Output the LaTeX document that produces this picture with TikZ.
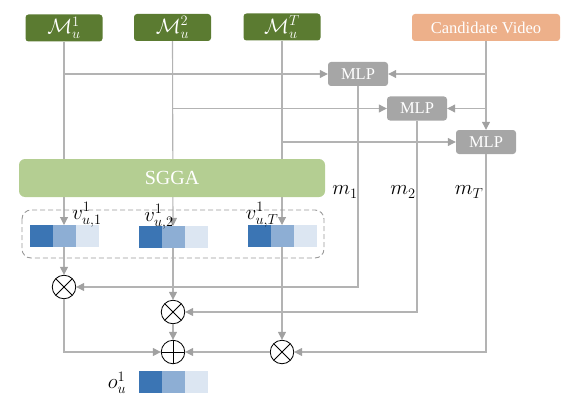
\documentclass[tikz,border=0pt]{standalone}
\usepackage{fontspec}
\setmainfont{Liberation Serif}
\usepackage{amsmath}
\usetikzlibrary{arrows.meta, positioning, fit, calc}
\pgfdeclarelayer{background}
\pgfsetlayers{background,main}
\definecolor{usergreen}{HTML}{5B7B31}
\definecolor{sggagreen}{HTML}{B4CE92}
\definecolor{candorange}{HTML}{EDB08A}
\definecolor{mlpgray}{HTML}{A6A6A6}
\definecolor{linegray}{HTML}{B3B3B3}
\definecolor{vdark}{HTML}{3B75B4}
\definecolor{vmid}{HTML}{8DAED4}
\definecolor{vlight}{HTML}{DCE6F2}
\newcommand{\Seq}[1]{\mathcal{M}_u^{#1}}
\tikzset{
    userbox/.style={rectangle, rounded corners=3pt, fill=usergreen, text=white,
      minimum width=77pt, minimum height=27pt, inner sep=0pt,
      font=\fontsize{22}{24}\selectfont},
    candbox/.style={userbox, fill=candorange, minimum width=148pt,
      font=\fontsize{16.5}{18}\selectfont},
    mlpbox/.style={rectangle, rounded corners=3pt, fill=mlpgray, text=white,
      minimum width=60pt, minimum height=24pt, inner sep=0pt,
      font=\fontsize{16.5}{18}\selectfont},
    seg/.style={rectangle, minimum width=23pt, minimum height=22pt,
      inner sep=0pt, outer sep=0pt},
    mathlab/.style={inner sep=0pt, font=\fontsize{22}{24}\selectfont},
    conn/.style={draw=linegray, line width=1.1pt},
    arr/.style={conn, -{Triangle[length=8pt, width=8pt, color=linegray!90!black]}},
    otimes/.style={circle, draw, line width=0.8pt, minimum size=23.5pt, inner sep=0pt,
      path picture={
        \draw[line width=0.8pt] (path picture bounding box.north east) -- (path picture bounding box.south west);
        \draw[line width=0.8pt] (path picture bounding box.north west) -- (path picture bounding box.south east);
      }},
    oplus/.style={circle, draw, line width=0.8pt, minimum size=23.5pt, inner sep=0pt,
      path picture={
        \draw[line width=0.8pt] (path picture bounding box.north) -- (path picture bounding box.south);
        \draw[line width=0.8pt] (path picture bounding box.west) -- (path picture bounding box.east);
      }},
}

\begin{document}
\begin{tikzpicture}[x=1pt, y=-1pt]
    \useasboundingbox (0,0) rectangle (572,401);

    % inputs
    \node[userbox] (mu1) at (64,28) {$\Seq{1}$};
    \node[userbox] (mu2) at (172.5,27.5) {$\Seq{2}$};
    \node[userbox] (muT) at (282,27) {$\Seq{T}$};
    \node[candbox] (cand) at (486,27.5) {Candidate Video};

    % MLPs
    \node[mlpbox] (mlp1) at (358,74) {MLP};
    \node[mlpbox] (mlp2) at (417,108.5) {MLP};
    \node[mlpbox] (mlp3) at (486,142) {MLP};

    \node[rectangle, rounded corners=6pt, fill=sggagreen, text=white,
      minimum width=306pt, minimum height=38pt,
      font=\fontsize{20}{22}\selectfont] (sgga) at (172,178) {SGGA};

    % interest vectors
    \draw[dashed, dash pattern=on 5pt off 3pt, draw=gray!80, line width=0.9pt, rounded corners=9pt]
      (22,210) rectangle (324,258);
    \foreach \name/\x/\y in {vec1/64/236, vec2/173/237, vec3/282/236, out/173/382} {
      \node[seg, fill=vmid] (\name) at (\x,\y) {};
      \node[seg, fill=vdark, left=0pt of \name] (\name l) {};
      \node[seg, fill=vlight, right=0pt of \name] (\name r) {};
    }
    \node[mathlab] (v1lab) at (87,215) {$v_{u,1}^1$};
    \node[mathlab] (v2lab) at (159,217) {$v_{u,2}^1$};
    \node[mathlab] (vTlab) at (262,215) {$v_{u,T}^1$};
    \node[mathlab] (olab) at (117,383) {$o_u^1$};

    \node[mathlab] (m1lab) at (345,192) {$m_1$};
    \node[mathlab] (m2lab) at (403,192) {$m_2$};
    \node[mathlab] (mTlab) at (469,192) {$m_T$};

    % fusion
    \node[otimes] (ot1) at (64,287) {};
    \node[otimes] (ot2) at (173,312) {};
    \node[otimes] (ot3) at (282,352) {};
    \node[oplus] (sum) at (173,352) {};

    \begin{pgfonlayer}{background}
      \draw[arr] (mu1.south) -- (vec1.north);
      \draw[arr] (mu2.south) -- (vec2.north);
      \draw[arr] (muT.south) -- (vec3.north);
      \draw[arr] (mu1 |- mlp1) -- (mlp1.west);
      \draw[arr] (mu2 |- mlp2) -- (mlp2.west);
      \draw[arr] (muT |- mlp3) -- (mlp3.west);
      \draw[arr] (cand.south) -- (mlp3.north);
      \draw[arr] (cand |- mlp1) -- (mlp1.east);
      \draw[arr] (cand |- mlp2) -- (mlp2.east);
    \end{pgfonlayer}

    \draw[arr] (mlp1.south) |- (ot1.east);
    \draw[arr] (mlp2.south) |- (ot2.east);
    \draw[arr] (mlp3.south) |- (ot3.east);
    \draw[arr] (vec1.south) -- (ot1.north);
    \draw[arr] (vec2.south) -- (ot2.north);
    \draw[arr] (vec3.south) -- (ot3.north);
    \draw[arr] (ot2.south) -- (sum.north);
    \draw[arr] (ot1.south) |- (sum.west);
    \draw[arr] (ot3.west) -- (sum.east);
\end{tikzpicture}
\end{document}
